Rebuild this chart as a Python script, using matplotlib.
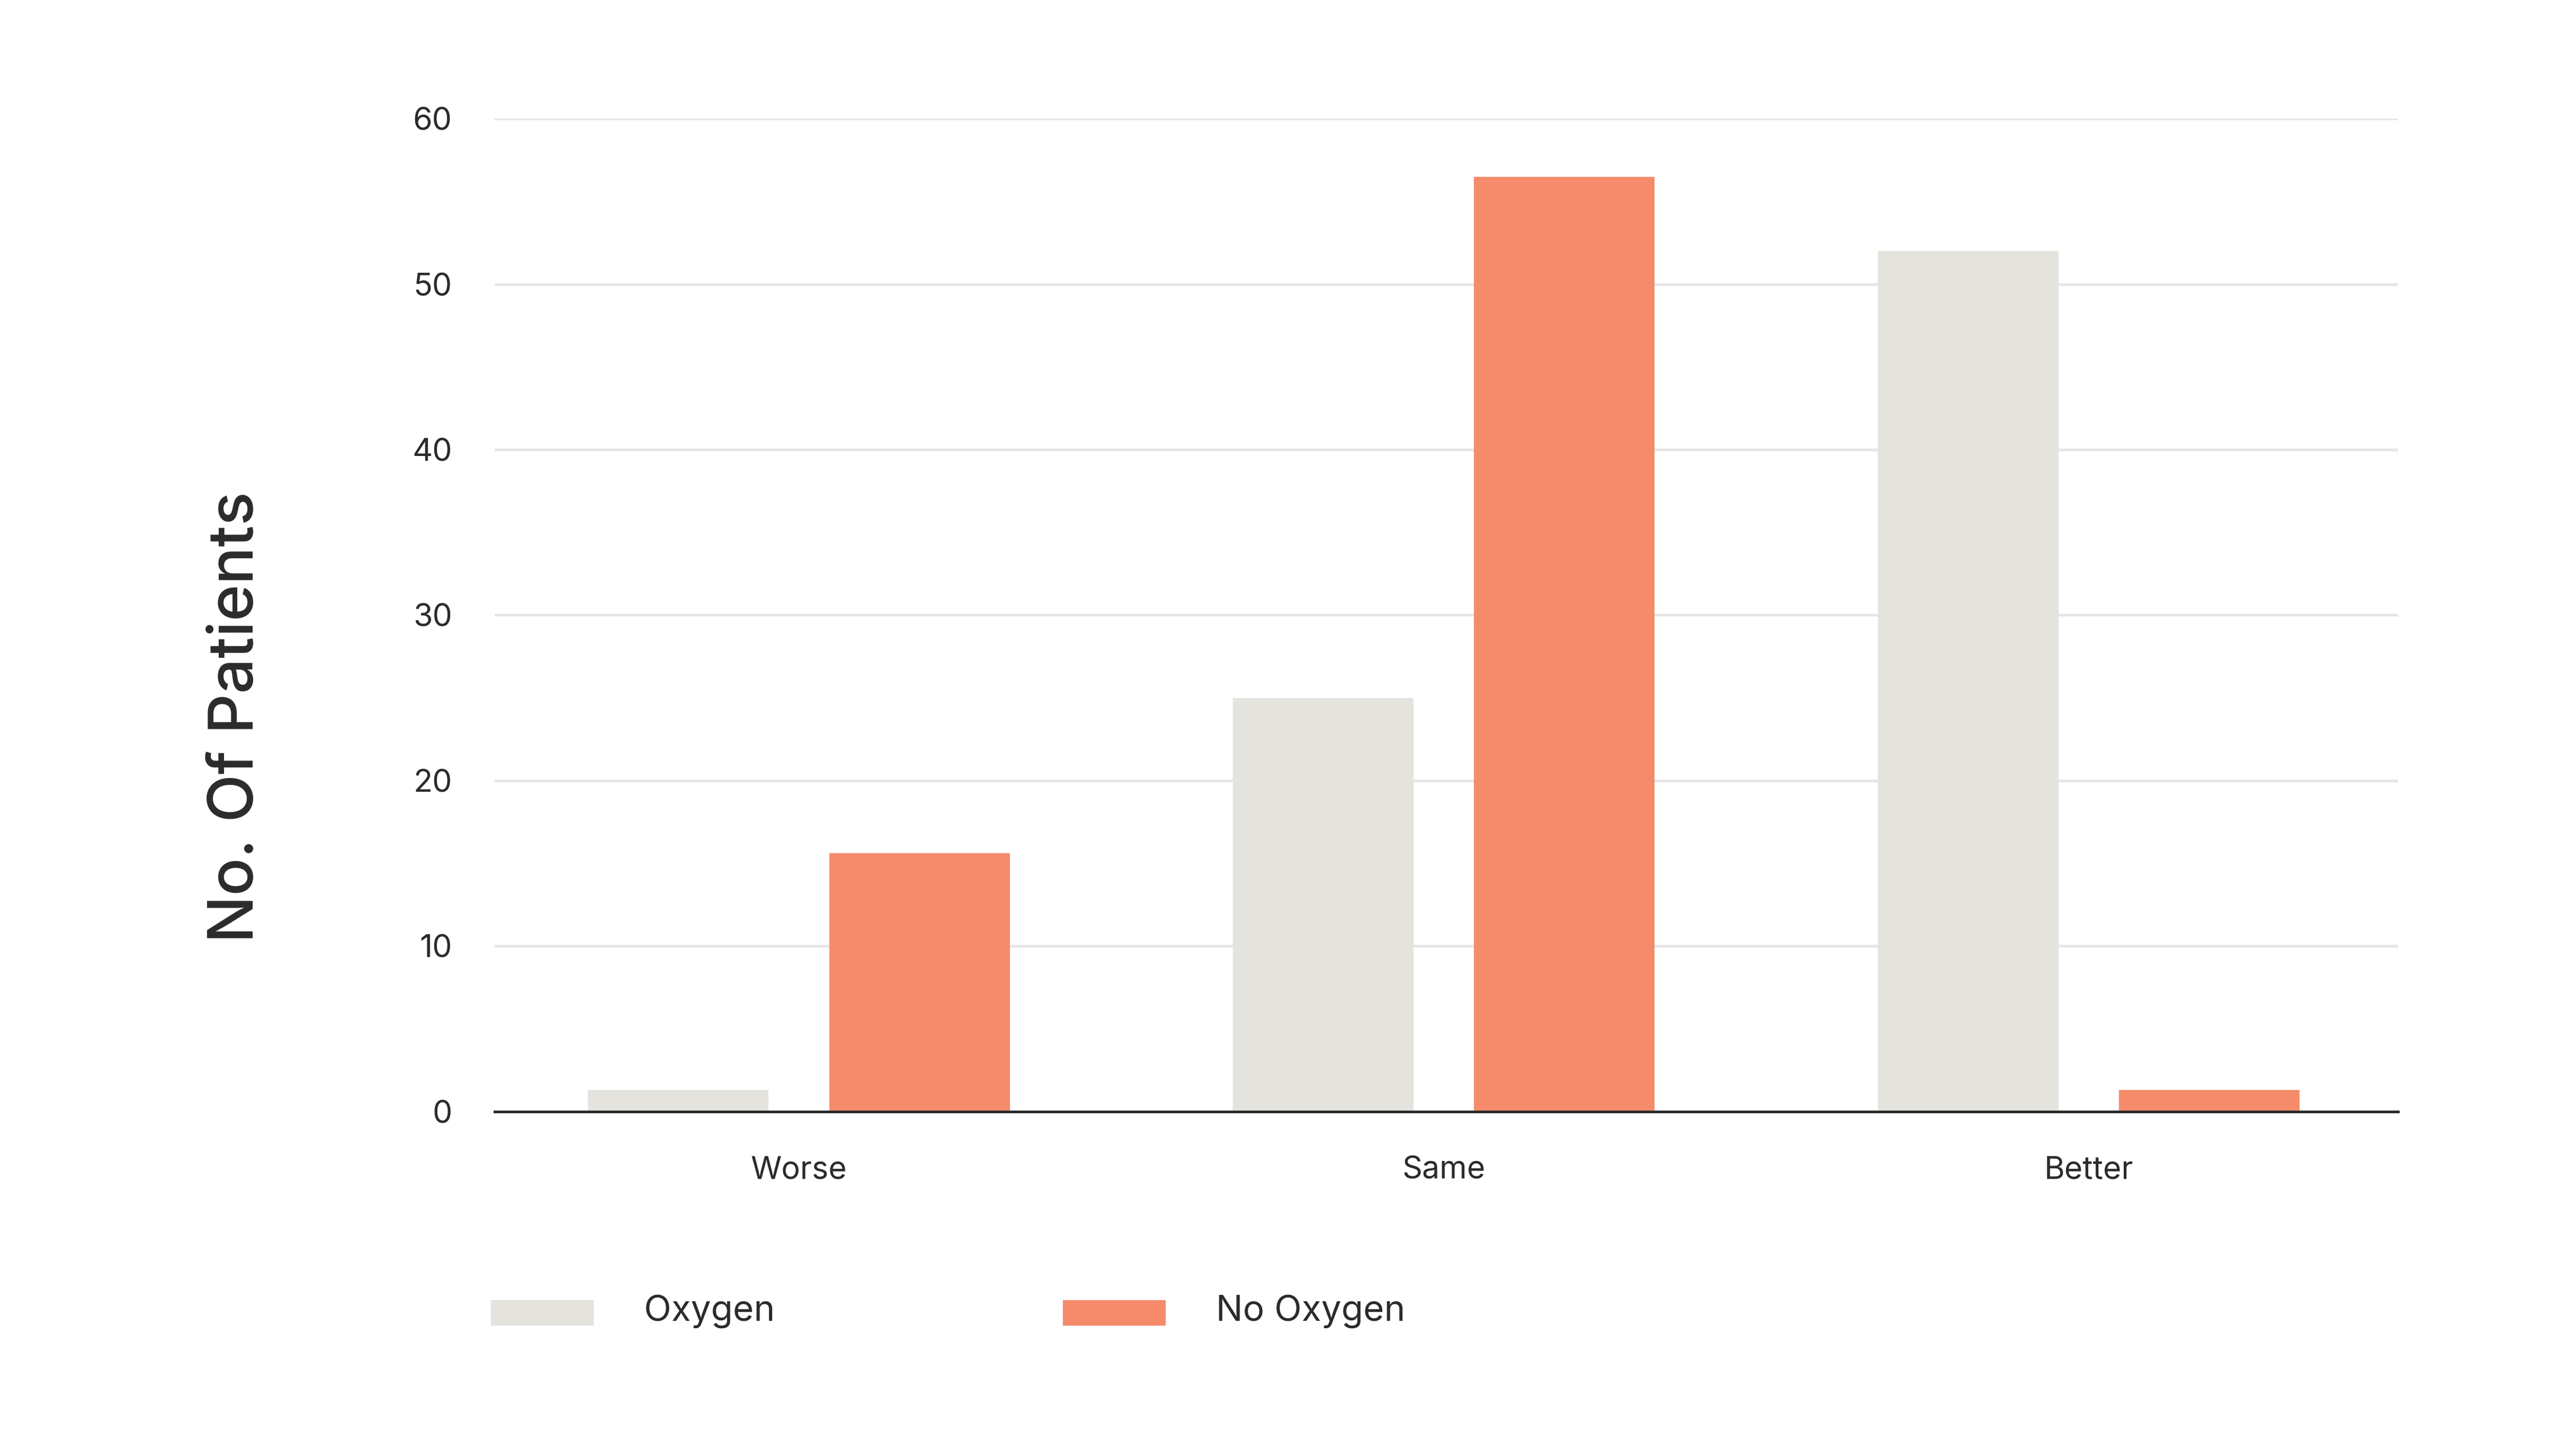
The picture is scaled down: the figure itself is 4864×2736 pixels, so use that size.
import matplotlib
matplotlib.use("Agg")
import matplotlib.pyplot as plt
import numpy as np
from matplotlib.patches import Rectangle

categories = ["Worse", "Same", "Better"]
oxygen = [1.3, 25, 52]
no_oxygen = [15.6, 56.5, 1.3]
series_names = ["Oxygen", "No Oxygen"]

GREY = "#E4E3DE"
ORANGE = "#F58B6A"
TEXT = "#2b2b2b"

plt.rcParams["font.family"] = ["Inter", "DejaVu Sans"]

fig = plt.figure(figsize=(16, 9), dpi=304)
ax = fig.add_axes([0.192, 0.233, 0.739, 0.685])

x = np.arange(len(categories))
w = 0.28
off = 0.187
ax.bar(x - off, oxygen, w, color=GREY, zorder=3)
ax.bar(x + off, no_oxygen, w, color=ORANGE, zorder=3)

ax.set_xlim(-0.472, 2.48)
ax.set_ylim(0, 60)
ax.set_yticks(range(0, 61, 10))
ax.set_xticks(x)
ax.set_xticklabels(categories)
ax.tick_params(axis="both", length=0, labelsize=14, colors=TEXT)
ax.tick_params(axis="y", pad=19)
ax.tick_params(axis="x", pad=20)
ax.grid(axis="y", color="#E6E6E6", lw=1.2, zorder=0)
for s in ["top", "right", "left"]:
    ax.spines[s].set_visible(False)
ax.spines["bottom"].set_color(TEXT)
ax.spines["bottom"].set_linewidth(1.2)
ax.spines["bottom"].set_zorder(4)

fig.text(0.092, 0.505, "No. Of Patients", rotation=90, ha="center", va="center",
         fontsize=28, color=TEXT, fontweight="medium")

# manual legend
for xl, xt, col, name in [(0.191, 0.250, GREY, series_names[0]),
                          (0.413, 0.472, ORANGE, series_names[1])]:
    fig.patches.append(Rectangle((xl, 0.086), 0.039, 0.016, color=col,
                                 transform=fig.transFigure))
    fig.text(xt, 0.095, name, ha="left", va="center", fontsize=16, color=TEXT)

fig.savefig("out.png", dpi=304)
